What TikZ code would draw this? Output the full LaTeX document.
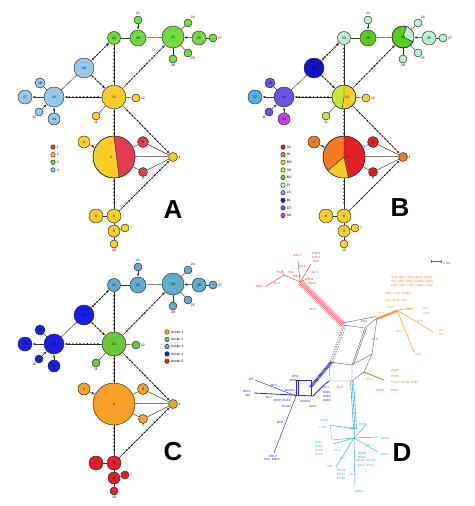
\documentclass[tikz,border=0pt]{standalone}
\usepackage{fontspec}
\setmainfont{Liberation Sans}
\usetikzlibrary{arrows.meta}
\usetikzlibrary{calc}
\usetikzlibrary{positioning}
\usetikzlibrary{backgrounds}
\usetikzlibrary{decorations.markings}
\tikzset{>={Latex[length=3.2pt,width=2.4pt]}}
% Panel A colours
\definecolor{rdA}{RGB}{232,58,80}
\definecolor{ywA}{RGB}{250,204,40}
\definecolor{gnA}{RGB}{110,222,60}
\definecolor{blA}{RGB}{150,200,236}
% Panel B colours
\definecolor{scB}{RGB}{230,30,40}
\definecolor{hlB}{RGB}{242,122,32}
\definecolor{roB}{RGB}{250,205,40}
\definecolor{skB}{RGB}{195,232,50}
\definecolor{buB}{RGB}{85,205,25}
\definecolor{piB}{RGB}{185,240,205}
\definecolor{lsB}{RGB}{85,175,235}
\definecolor{blB}{RGB}{10,20,200}
\definecolor{otB}{RGB}{105,85,230}
\definecolor{haB}{RGB}{205,60,235}
% Panel C colours
\definecolor{c1}{RGB}{247,160,40}
\definecolor{c2}{RGB}{105,200,55}
\definecolor{c3}{RGB}{95,172,205}
\definecolor{c4}{RGB}{25,30,230}
\definecolor{c5}{RGB}{230,30,35}
% Panel D colours
\definecolor{rdD}{RGB}{232,60,75}
\definecolor{orD}{RGB}{245,145,30}
\definecolor{gnD}{RGB}{80,185,30}
\definecolor{blD}{RGB}{35,35,215}
\definecolor{cyD}{RGB}{50,175,200}
\definecolor{grD}{RGB}{105,105,105}
\tikzstyle{hap} = [%
					circle, 
					draw = black!85, 
					line width = 0.45pt, 
					inner sep = 0pt, 
					font = \fontsize{3.4}{3.4}\selectfont]
\tikzstyle{hapline} = [draw = black!85, line width = 0.45pt]
\tikzstyle{lab} = [font = \fontsize{3.4}{3.4}\selectfont, inner sep = 0.6pt]
\tikzstyle{edge} = [line width = 0.45pt, draw = black!80]
\tikzstyle{dbledge} = [line width = 0.4pt, draw = gray, double = white, double distance = 0.7pt]
\tikzstyle{steps} = [%
					postaction = decorate, 
					decoration = {markings, mark = between positions 0.1 and 0.92 step 3.6pt with {\fill[black] (0,0) circle[radius=0.8pt];}}
					]
\tikzstyle{legdot} = [circle, draw = black!85, line width = 0.4pt, minimum size = 4.5pt, inner sep = 0pt]
\tikzstyle{legtxt} = [font = \fontsize{3.4}{3.4}\selectfont, inner sep = 0.5pt]
\tikzstyle{panel} = [font = \fontsize{26}{26}\selectfont\bfseries]
\tikzstyle{dlab} = [font = \fontsize{3}{3.2}\selectfont, inner sep = 0pt]
\tikzstyle{dline} = [line width = 0.45pt]

% name/x/y/radius/label angle (999 = inside, 998 = set later)/colour A/colour B/colour C
\newcommand{\haplist}{%
	22/114/38/6.5/999/gnA/piB/c3, 21/138/20/4/90/gnA/piB/c3, 20/138/38/8/999/gnA/buB/c3,
	23/173/37/11/998/gnA/buB/c3, 24/188/23/4/60/gnA/piB/c3, 26/199/38/7/999/gnA/piB/c3,
	27/213/38/4/0/gnA/piB/c3, 25/188/53/4/-60/gnA/piB/c3, 28/173/59/4/-90/gnA/piB/c3,
	19/84/68/10/999/blA/blB/c4, 18/40/83/5/999/blA/otB/c4, 16/54/97/10/999/blA/otB/c4,
	17/25/97/7/999/blA/lsB/c4, 15/39/112/4/-120/blA/otB/c4, 14/54/119/6/999/blA/haB/c4,
	13/114/97/12/998/ywA/roB/c2, 12/136/98/4/0/ywA/roB/c2, 11/96/116/4/-90/ywA/skB/c2,
	1/84/142/6/999/ywA/hlB/c1, 2/114/157/21/998/ywA/hlB/c1, 3/143/142/5.5/999/rdA/scB/c1,
	5/143/172/4.5/-90/rdA/scB/c1, 4/173/157/4.5/0/ywA/hlB/c1, 6/96/216/7/999/ywA/roB/c5,
	8/114/216/7/999/ywA/roB/c5, 9/114/231/6/999/ywA/roB/c5, 7/125/228/4/0/ywA/roB/c5,
	10/114/244/4/-90/ywA/roB/c5}

% #1 panel, #2 colour column
\newcommand{\hapnodes}[2]{%
	\foreach \n/\x/\y/\r/\a/\ca/\cb/\cc in \haplist
		\node[hap, minimum size=\r*2pt, fill=#2, label={[lab]\a:\ifnum\a<998 \n\fi}] (#1\n) at (\x,\y) {\ifnum\a=999 \n\fi};
}

\newcommand{\hapedges}[1]{%
	\draw[edge] (#122) -- (#120);
	\draw[edge] (#120) -- (#123);
	\draw[edge,->] (#121) -- (#120);
	\draw[edge] (#123) -- (#124);
	\draw[edge,->] (#126) -- (#123);
	\draw[edge] (#126) -- (#127);
	\draw[edge] (#123) -- (#125);
	\draw[edge] (#123) -- (#128);
	\draw[edge,steps,<->] (#122) -- (#119);
	\draw[edge,steps] (#122) -- (#113);
	\draw[edge,steps,->] (#119) -- (#113);
	\draw[edge,steps,->] (#113) -- (#123);
	\draw[edge] (#119) -- (#116);
	\draw[edge] (#116) -- (#118);
	\draw[edge,->] (#116) -- (#117);
	\draw[edge,->] (#115) -- (#116);
	\draw[edge,->] (#114) -- (#116);
	\draw[edge,steps,->] (#113) -- (#116);
	\draw[edge] (#113) -- (#112);
	\draw[edge] (#113) -- (#111);
	\draw[edge,steps] (#113) -- (#12);
	\draw[edge,steps,->] (#113) -- (#14);
	\draw[edge,->] (#11) -- (#12);
	\draw[edge] (#12) -- (#13);
	\draw[edge] (#12) -- (#15);
	\draw[edge] (#13) -- (#14);
	\draw[edge] (#15) -- (#14);
	\draw[dbledge] (#12) -- (#14);
	\draw[edge,steps] (#12) -- (#18);
	\draw[edge,steps,->] (#18) -- (#14);
	\draw[edge] (#18) -- (#16);
	\draw[edge] (#18) -- (#19);
	\draw[edge] (#19) -- (#17);
	\draw[edge] (#19) -- (#110);
}

\begin{document}
\begin{tikzpicture}[x=1pt, y=-1pt]
	\useasboundingbox (0,0) rectangle (474,506);
	
	% Panel A
	\begin{scope}
		\hapnodes{A}{\ca}
		\begin{scope}[on background layer]
			\hapedges{A}
		\end{scope}
		%% Pie
		\fill[rdA] ($(A2)+(-90:21)$) arc[start angle=-90, end angle=76, radius=21] -- cycle;
		\draw[hapline] ($(A2)+(-90:21)$) -- ($(A2)+(76:21)$);
		\draw[hapline] (A2) circle[radius=21];
		\node[lab] (A2t) at ($(A2)+(-3,0)$) {2};
		\node[lab] (A13t) at (A13) {13};
		\node[lab] (A23t) at (A23) {23};
		%% Legend
		\foreach \c/\t [count=\i] in {rdA/1, ywA/2, gnA/3, blA/4}
		{
			\node[legdot, fill=\c] (lA\i) at (53,{139.5+7.6*\i}) {};
			\node[legtxt, right=0.6pt of lA\i] (tA\i) {\t};
		}
		\node[panel] (labA) at (173,210) {A};
	\end{scope}
	
	% Panel B
	\begin{scope}[shift={(230,0)}]
		\hapnodes{B}{\cb}
		\begin{scope}[on background layer]
			\hapedges{B}
		\end{scope}
		%% Pies
		\fill[scB] (B2.center) -- ($(B2)+(-90:21)$) arc[start angle=-90, end angle=78, radius=21] -- cycle;
		\fill[roB] (B2.center) -- ($(B2)+(78:21)$) arc[start angle=78, end angle=140, radius=21] -- cycle;
		\draw[hapline] (B2.center) -- ($(B2)+(-90:21)$) (B2.center) -- ($(B2)+(78:21)$) (B2.center) -- ($(B2)+(140:21)$);
		\draw[hapline] (B2) circle[radius=21];
		\node[lab] (B2t) at ($(B2)+(3,0)$) {2};
		\fill[skB] (B13.center) -- ($(B13)+(100:12)$) arc[start angle=100, end angle=270, radius=12] -- cycle;
		\draw[hapline] ($(B13)+(-90:12)$) -- (B13.center) -- ($(B13)+(100:12)$);
		\draw[hapline] (B13) circle[radius=12];
		\node[lab] (B13t) at ($(B13)+(3,0)$) {13};
		\fill[piB] (B23.center) -- ($(B23)+(-72:11)$) arc[start angle=-72, end angle=25, radius=11] -- cycle;
		\draw[hapline] ($(B23)+(-72:11)$) -- (B23.center) -- ($(B23)+(25:11)$);
		\draw[hapline] (B23) circle[radius=11];
		\node[lab] (B23t) at (B23) {23};
		%% Legend
		\foreach \c/\t [count=\i] in {scB/SC, hlB/HL, roB/RO, skB/SK, buB/BU, piB/PI, lsB/LS, blB/BL, otB/OT, haB/HA}
		{
			\node[legdot, fill=\c] (lB\i) at (53,{139.5+7.6*\i}) {};
			\node[legtxt, right=0.6pt of lB\i] (tB\i) {\t};
		}
		\node[panel] (labB) at (170,208) {B};
	\end{scope}
	
	% Panel C
	\begin{scope}[shift={(0,247)}]
		\hapnodes{C}{\cc}
		\begin{scope}[on background layer]
			\hapedges{C}
		\end{scope}
		\node[lab] (C2t) at (C2) {2};
		\node[lab] (C13t) at (C13) {13};
		\node[lab] (C23t) at (C23) {23};
		%% Legend
		\foreach \c/\t [count=\i] in {c1/cluster 1, c2/cluster 2, c3/cluster 3, c4/cluster 4, c5/cluster 5}
		{
			\node[legdot, fill=\c] (lC\i) at (167,{77.7+7.3*\i}) {};
			\node[legtxt, right=0.6pt of lC\i] (tC\i) {\t};
		}
		\node[panel] (labC) at (173,205) {C};
	\end{scope}
	
	% Panel D
	%% Coordinates
	\coordinate (r0) at (300,282);
	\coordinate (r1) at (284,275);
	\coordinate (r2) at (343,325);
	\coordinate (g1) at (343,325);
	\coordinate (g2) at (365,328);
	\coordinate (g3) at (377,318);
	\coordinate (g4) at (352,365);
	\coordinate (g5) at (372,354);
	\coordinate (g6) at (330,362);
	\coordinate (g7) at (329,381);
	\coordinate (g8) at (352,381);
	\coordinate (g9) at (364,372);
	\coordinate (o0) at (397,310);
	\coordinate (b1) at (313,396);
	\coordinate (b2) at (296,396);
	\coordinate (b3) at (296,380);
	\coordinate (b4) at (311,380);
	\coordinate (c0) at (355,429);
	\coordinate (c1) at (354,438);
	
	%% Red
	\draw[dline, rdD] (r0) -- (r1) -- (265,287);
	\draw[dline, rdD] (r0) -- (298,261);
	\draw[dline, rdD] (r0) -- (311,264);
	\draw[dline, rdD] (r0) -- (309,278);
	\draw[dline, rdD] (r1) -- (282,270);
	\foreach \d in {-2,...,2}
		\draw[dline, rdD!85] ($(r0)+(\d*0.9,-\d*0.9)$) -- ($(r2)+(\d*0.9,-\d*0.9)$);
	
	%% Gray box
	\draw[dline, grD] (g1) -- (g2) -- (g3);
	\draw[dline, grD] ($(g1)+(0,-2)$) -- ($(g3)+(-1,-1.5)$);
	\draw[dline, grD] (g2) -- (g4);
	\draw[dline, grD] ($(g2)+(1.5,0)$) -- ($(g4)+(1.5,0)$);
	\draw[dline, grD] (g3) -- (g5) -- (g4);
	\foreach \d in {0,1.5,3}
		\draw[dline, grD, dashed, dash pattern=on 1.5pt off 1pt] ($(g1)+(\d,0)$) -- ($(g6)+(\d,0)$);
	\draw[dline, grD] (g6) -- (g4) -- (g8);
	\draw[dline, grD, dashed, dash pattern=on 1.5pt off 1pt] (g6) -- (g7);
	\draw[dline, grD] (g7) -- (g8) -- (g9) -- (g5);
	
	%% Orange
	\foreach \d in {0,0.8,1.6}
		\draw[dline, orD, line width=0.7pt] ($(g3)+(0,\d)$) -- ($(o0)+(0,\d)$);
	\draw[dline, orD] (o0) -- (414,308);
	\draw[dline, orD] (o0) -- (433,332);
	\draw[dline, orD] (o0) -- (414,352);
	
	%% Green
	\draw[dline, gnD, line width=0.9pt] (g9) -- (384,380);
	
	%% Blue
	\foreach \d in {0,1,2,3}
		\draw[dline, blD] ($(g6)+(\d,0)$) -- ($(b4)+(\d-2,7)$);
	\draw[dline, blD] (b3) -- (b4) -- ($(b4)+(0,16)$);
	\draw[dline, blD] (b3) -- (b2);
	\draw[dline, blD] ($(b3)+(2,0)$) -- ($(b2)+(2,0)$);
	\draw[dline, blD, line width=0.8pt] (254,393) -- (b1);
	\draw[dline, blD] (255,380) -- (b2);
	\draw[dline, blD] (b2) -- (274,453);
	\draw[dline, blD, line width=0.8pt] (b1) -- (324,385) -- (g7);
	
	%% Cyan
	\foreach \d in {-1.5,0,1.5}
		\draw[dline, cyD, line width=0.6pt] ($(g8)+(\d,0)$) -- ($(c0)+(\d,0)$);
	\draw[dline, cyD] (330,425) -- (c0) -- (c1);
	\draw[dline, cyD, dashed, dash pattern=on 1.5pt off 1pt] (330,425) -- (332,440);
	\draw[dline, cyD] (332,440) -- (c1);
	\draw[dline, cyD] (c1) -- (333,444);
	\draw[dline, cyD] (c1) -- (336,467);
	\draw[dline, cyD] (c1) -- (355,486);
	\draw[dline, cyD] (c1) -- (378,437);
	\draw[dline, cyD] (c1) -- (378,452);
	\draw[dline, cyD] (c1) -- (366,425);
	
	%% Scale bar
	\draw[dline, grD] (431,261) -- (441,261);
	\draw[dline, grD] (431,259.5) -- (431,262.5) (441,259.5) -- (441,262.5);
	\node[dlab, text=grD] (scl) at (447,263) {0.001};
	
	%% Labels
	\foreach \x/\y/\t [count=\i] in {297/255/GSP1, 316/253/GSP3, 316/257/GSP2, 316/261/GSP, 280/272/TKA7, 291/272/TKA, 297/276/BAL3, 259/286/TBA1, 277/283/TK.1, 302/266/GR.3, 315/272/G1.3, 311/279/PAL, 312/283/TBA3, 313/309/BR.7}
		\node[dlab, text=rdD] (dr\i) at (\x,\y) {\t};
	\foreach \x/\y/\t [count=\i] in {412/278/{ELB, HEL, HOT, HEO1, HEO2}, 412/282/{HIC, HEP, LOR1, ARHO, LOR3}, 412/286/{LAK, LAK1, LAK3, LAK4, LAK2}, 398/294/{WOR, LAK, WOR2}, 396/301/{TAH, TEJE, TEJ}, 391/307/CHIO, 409/309/EC2, 426/308/EL7, 427/313/DLE1, 420/321/EL.5, 441/330/SAI, 441/334/SBI, 400/331/BR.7, 418/354/LAKI, 381/313/TS.7}
		\node[dlab, text=orD] (do\i) at (\x,\y) {\t};
	\foreach \x/\y/\t [count=\i] in {395/370/PLE7, 395/376/PLE9, 405/383/{PHC2, PLCB, PHE7}, 380/390/EDEN, 395/390/EDR3, 370/379/TS.7}
		\node[dlab, text=gnD] (dg\i) at (\x,\y) {\t};
	\foreach \x/\y/\t [count=\i] in {251/379/JE5, 247/391/BAY1, 248/395/TAY, 295/376/JES3, 293/380/JES2, 290/390/BLOO1, 282/401/{JOSP, BLOX}, 286/406/BLOO, 305/401/AEKO1, 313/406/AKE7, 327/392/AKE1, 327/396/AKE2, 327/400/AKE3, 274/385/BT.1, 269/397/BL.7, 280/422/BT.8, 273/456/ERL3, 272/460/{ERL, ERL2}}
		\node[dlab, text=blD] (db\i) at (\x,\y) {\t};
	\foreach \x/\y/\t [count=\i] in {326/387/BR.3, 364/321/EB.8, 375/339/BT.8, 340/387/EL.5}
		\node[dlab, text=grD] (dk\i) at (\x,\y) {\t};
	\foreach \x/\y/\t [count=\i] in {324/420/FYK0, 323/427/FYK2, 319/442/STA1, 319/446/STA2, 319/450/STAB, 319/454/ETA2, 337/450/TS.3, 343/458/BT.7, 362/453/BGAB, 362/457/BRAV, 366/461/{PIOJF, PFCJE}, 366/466/{PLCJ, PFCJ}, 341/470/PFCM, 341/474/PCNT, 341/478/PLOR, 353/474/EL7, 370/445/BT.7, 359/491/HEKA, 385/438/WBR3, 384/454/ALBM, 363/424/HYB3, 330/466/PIK, 352/428/BT.3}
		\node[dlab, text=cyD] (dc\i) at (\x,\y) {\t};
	
	\node[panel] (labD) at (402,453) {D};
\end{tikzpicture}
\end{document}
